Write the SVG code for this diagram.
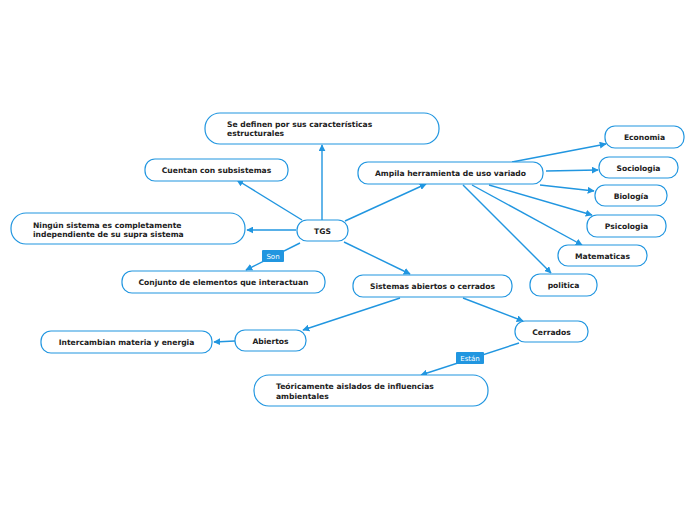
<svg xmlns="http://www.w3.org/2000/svg" width="696" height="520" viewBox="0 0 696 520">
<defs>
<marker id="a" viewBox="0 0 10 10" refX="9" refY="5" markerWidth="7" markerHeight="7" orient="auto" markerUnits="userSpaceOnUse"><path d="M0,0L10,5L0,10z" fill="#2196e0"/></marker>
<style>
.n{fill:#fff;stroke:#2196e0;stroke-width:1.2}
.t{font-family:"DejaVu Sans",Verdana,sans-serif;font-weight:bold;font-size:7.6px;fill:#222}
.c{text-anchor:middle}
.e{stroke:#2196e0;stroke-width:1.4;fill:none;marker-end:url(#a)}
.l{fill:#2196e0}
.lt{font-family:"DejaVu Sans",sans-serif;font-size:7px;fill:#fff;text-anchor:middle}
</style>
</defs>
<rect width="696" height="520" fill="#fff"/>
<g id="connectors">
<line class="e" x1="322" y1="220" x2="322" y2="145"/>
<line class="e" x1="302" y1="220" x2="237" y2="180"/>
<line class="e" x1="296" y1="230" x2="247" y2="230"/>
<line class="e" x1="300" y1="243" x2="246" y2="270"/>
<line class="e" x1="345" y1="221" x2="426" y2="184"/>
<line class="e" x1="344" y1="242" x2="410" y2="274"/>
<line class="e" x1="512" y1="162" x2="606" y2="144"/>
<line class="e" x1="546" y1="171" x2="598" y2="170"/>
<line class="e" x1="540" y1="185" x2="594" y2="191"/>
<line class="e" x1="489" y1="185" x2="592" y2="215"/>
<line class="e" x1="472" y1="185" x2="582" y2="245"/>
<line class="e" x1="463" y1="185" x2="551" y2="273"/>
<line class="e" x1="400" y1="298" x2="303" y2="330"/>
<line class="e" x1="463" y1="298" x2="523" y2="321"/>
<line class="e" x1="235" y1="341" x2="214" y2="342"/>
<line class="e" x1="519" y1="343" x2="421" y2="375"/>
<rect class="l" x="262" y="250" width="22" height="12" rx="1"/><text class="lt" x="273" y="259">Son</text>
<rect class="l" x="456" y="352" width="28" height="12" rx="1"/><text class="lt" x="470" y="361">Están</text>
</g>
<g id="n-def"><rect class="n" x="205" y="113" width="234" height="31" rx="15"/><text class="t" x="227" y="127">Se definen por sus características</text><text class="t" x="227" y="136">estructurales</text></g>
<g id="n-cue"><rect class="n" x="145" y="159" width="143" height="22" rx="10"/><text class="t c" x="216.5" y="173">Cuentan con subsistemas</text></g>
<g id="n-nin"><rect class="n" x="11" y="213" width="234" height="31" rx="15"/><text class="t" x="33" y="228">Ningún sistema es completamente</text><text class="t" x="33" y="237">independiente de su supra sistema</text></g>
<g id="n-tgs"><rect class="n" x="297" y="220" width="51" height="21" rx="10"/><text class="t c" x="322.5" y="234">TGS</text></g>
<g id="n-con"><rect class="n" x="122" y="271" width="203" height="22" rx="10"/><text class="t c" x="223.5" y="285">Conjunto de elementos que interactuan</text></g>
<g id="n-amp"><rect class="n" x="358" y="162" width="185" height="22" rx="10"/><text class="t c" x="450.5" y="176">Ampila herramienta de uso variado</text></g>
<g id="n-eco"><rect class="n" x="605" y="126" width="79" height="22" rx="10"/><text class="t c" x="644.5" y="140">Economia</text></g>
<g id="n-soc"><rect class="n" x="599" y="157" width="79" height="21" rx="10"/><text class="t c" x="638.5" y="171">Sociologia</text></g>
<g id="n-bio"><rect class="n" x="595" y="185" width="72" height="21" rx="10"/><text class="t c" x="631" y="199">Biología</text></g>
<g id="n-psi"><rect class="n" x="587" y="215" width="79" height="22" rx="10"/><text class="t c" x="626.5" y="229">Psicologia</text></g>
<g id="n-mat"><rect class="n" x="558" y="245" width="89" height="21" rx="10"/><text class="t c" x="602.5" y="259">Matematicas</text></g>
<g id="n-pol"><rect class="n" x="530" y="274" width="67" height="22" rx="10"/><text class="t c" x="563.5" y="288">politica</text></g>
<g id="n-sis"><rect class="n" x="353" y="275" width="159" height="22" rx="10"/><text class="t c" x="432.5" y="289">Sistemas abiertos o cerrados</text></g>
<g id="n-abi"><rect class="n" x="235" y="330" width="71" height="21" rx="10"/><text class="t c" x="270.5" y="344">Abiertos</text></g>
<g id="n-int"><rect class="n" x="41" y="331" width="171" height="22" rx="10"/><text class="t c" x="126.5" y="345">Intercambian materia y energia</text></g>
<g id="n-cer"><rect class="n" x="515" y="321" width="73" height="21" rx="10"/><text class="t c" x="551.5" y="335">Cerrados</text></g>
<g id="n-teo"><rect class="n" x="254" y="375" width="234" height="31" rx="15"/><text class="t" x="276" y="389">Teóricamente aislados de influencias</text><text class="t" x="276" y="399">ambientales</text></g>
</svg>
